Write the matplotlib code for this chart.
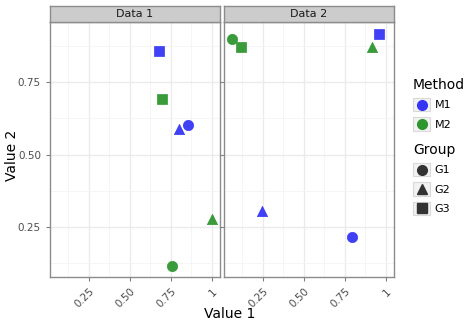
import numpy as np
import matplotlib
matplotlib.use("Agg")
import matplotlib.pyplot as plt
from matplotlib.lines import Line2D
from matplotlib.patches import Rectangle
from matplotlib.legend_handler import HandlerBase

# data
panels = ["Data 1", "Data 2"]
d1_x = [0.676, 0.696, 0.803, 0.856, 1.0, 0.757]
d1_y = [0.859, 0.693, 0.590, 0.601, 0.278, 0.115]
d1_method = ["M1", "M2", "M1", "M1", "M2", "M2"]
d1_group = ["G3", "G3", "G2", "G1", "G2", "G1"]

d2_x = [0.061, 0.118, 0.956, 0.915, 0.244, 0.797]
d2_y = [0.902, 0.873, 0.919, 0.873, 0.306, 0.215]
d2_method = ["M2", "M2", "M1", "M2", "M1", "M1"]
d2_group = ["G1", "G3", "G3", "G2", "G2", "G1"]

methods = ["M1", "M2"]
groups = ["G1", "G2", "G3"]
xticks = [0.25, 0.5, 0.75, 1.0]
xticklabels = ["0.25", "0.50", "0.75", "1"]
yticks = [0.25, 0.5, 0.75]
yticklabels = ["0.25", "0.50", "0.75"]

colors = {"M1": "#3535f5", "M2": "#2f962f"}
markers = {"G1": "o", "G2": "^", "G3": "s"}

W, H = 474, 328
fig = plt.figure(figsize=(W / 100, H / 100), dpi=100)

def fx(px):
    return px / W

def fy(py):
    return 1 - py / H

top, bot = 22, 277.3
lefts = [50, 224]
width = 169.5

allx = d1_x + d2_x
ally = d1_y + d2_y
xr = max(allx) - min(allx)
yr = max(ally) - min(ally)
xlim = (min(allx) - 0.05 * xr, max(allx) + 0.05 * xr)
ylim = (min(ally) - 0.05 * yr, max(ally) + 0.05 * yr)

data = [(d1_x, d1_y, d1_method, d1_group), (d2_x, d2_y, d2_method, d2_group)]
grey = "#4d4d4d"
axes = []
for i, (name, (xs, ys, ms, gs)) in enumerate(zip(panels, data)):
    ax = fig.add_axes([fx(lefts[i]), fy(bot), fx(width), fy(top) - fy(bot)])
    axes.append(ax)
    ax.set_xlim(xlim)
    ax.set_ylim(ylim)
    ax.set_xticks(xticks)
    ax.set_xticks([0.125, 0.375, 0.625, 0.875], minor=True)
    ax.set_yticks(yticks)
    ax.set_yticks([0.125, 0.375, 0.625, 0.875], minor=True)
    ax.grid(True, which="major", color="#ebebeb", lw=1.0)
    ax.grid(True, which="minor", color="#f4f4f4", lw=0.6)
    ax.set_axisbelow(True)
    ax.tick_params(which="minor", length=0)
    ax.tick_params(which="major", length=3, color="#808080", width=0.8,
                   labelsize=7.5, labelcolor=grey)
    ax.set_xticklabels(xticklabels, rotation=45, ha="right", rotation_mode="anchor")
    if i == 0:
        ax.set_yticklabels(yticklabels)
    else:
        ax.set_yticklabels([])
        ax.tick_params(axis="y", length=3)
    for sp in ax.spines.values():
        sp.set_color("#8c8c8c")
        sp.set_linewidth(1.0)
    for x, y, m, g in zip(xs, ys, ms, gs):
        ax.scatter(x, y, s=55, marker=markers[g], color=colors[m], alpha=0.95,
                   edgecolors=colors[m], linewidths=0.5, zorder=3)
    # strip
    sax = fig.add_axes([fx(lefts[i]), fy(top), fx(width), fy(6) - fy(top)])
    sax.set_xticks([])
    sax.set_yticks([])
    sax.set_facecolor("#cccccc")
    for sp in sax.spines.values():
        sp.set_color("#8c8c8c")
        sp.set_linewidth(1.0)
    sax.text(0.5, 0.5, name, ha="center", va="center", fontsize=8, color="#1a1a1a",
             transform=sax.transAxes)

fig.text(fx(230), fy(314), "Value 1", ha="center", va="center", fontsize=10)
fig.text(fx(12), fy(155), "Value 2", ha="center", va="center", fontsize=10, rotation=90)


class KeyHandler(HandlerBase):
    def create_artists(self, legend, orig_handle, xdescent, ydescent, width, height,
                       fontsize, trans):
        rect = Rectangle((-xdescent, -ydescent), width, height, facecolor="#f2f2f2",
                         edgecolor="#d9d9d9", lw=0.8, transform=trans)
        mk = Line2D([-xdescent + width / 2], [-ydescent + height / 2],
                    marker=orig_handle.get_marker(), color=orig_handle.get_color(),
                    markersize=orig_handle.get_markersize(), linestyle="none",
                    transform=trans)
        return [rect, mk]


m_handles = [Line2D([], [], marker="o", color=colors[m], markersize=7, linestyle="none")
             for m in methods]
g_handles = [Line2D([], [], marker=markers[g], color="#333333", markersize=7, linestyle="none")
             for g in groups]

common = dict(frameon=False, fontsize=8, title_fontsize=10, handlelength=1.55,
              handleheight=1.55, handletextpad=0.4, labelspacing=0.5, borderpad=0,
              borderaxespad=0, handler_map={Line2D: KeyHandler()}, alignment="left")
leg1 = fig.legend(m_handles, methods, title="Method", loc="upper left",
                  bbox_to_anchor=(fx(413), fy(78)), **common)
leg2 = fig.legend(g_handles, groups, title="Group", loc="upper left",
                  bbox_to_anchor=(fx(413), fy(143)), **common)

fig.savefig("out.png", dpi=100)
